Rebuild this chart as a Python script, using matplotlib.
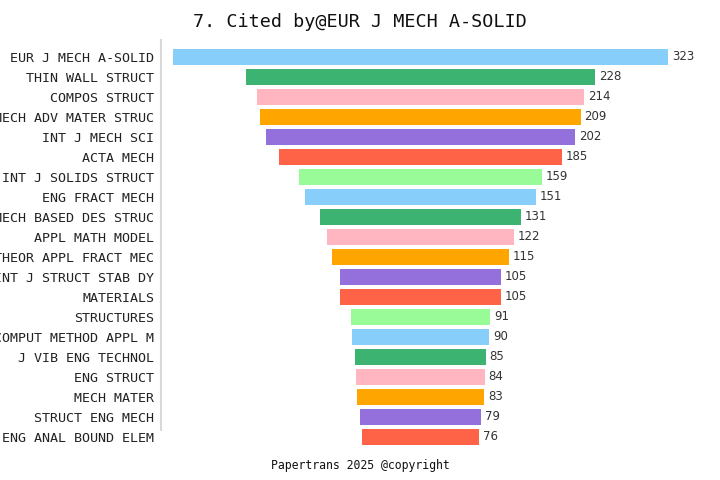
import matplotlib
matplotlib.use("Agg")
import matplotlib.pyplot as plt

journals = ["EUR J MECH A-SOLID", "THIN WALL STRUCT", "COMPOS STRUCT",
            "MECH ADV MATER STRUC", "INT J MECH SCI", "ACTA MECH",
            "INT J SOLIDS STRUCT", "ENG FRACT MECH", "MECH BASED DES STRUC",
            "APPL MATH MODEL", "THEOR APPL FRACT MEC", "INT J STRUCT STAB DY",
            "MATERIALS", "STRUCTURES", "COMPUT METHOD APPL M",
            "J VIB ENG TECHNOL", "ENG STRUCT", "MECH MATER",
            "STRUCT ENG MECH", "ENG ANAL BOUND ELEM"]
counts = [323, 228, 214, 209, 202, 185, 159, 151, 131, 122,
          115, 105, 105, 91, 90, 85, 84, 83, 79, 76]
palette = ["#87CEFA", "#3CB371", "#FFB6C1", "#FFA500", "#9370DB", "#FF6347", "#98FB98"]

mono = "DejaVu Sans Mono"

fig = plt.figure(figsize=(7.2, 4.8), dpi=100)
ax = fig.add_axes([161 / 720, 1 - 454 / 480, 519 / 720, 414 / 480])

colors = [palette[i % len(palette)] for i in range(len(counts))]
ypos = list(range(len(counts)))
lefts = [-c / 2 for c in counts]
ax.barh(ypos, counts, left=lefts, height=0.8, color=colors)

for y, c in zip(ypos, counts):
    ax.text(c / 2 + 2.5, y, str(c), va="center", ha="left",
            fontsize=8.5, color="#333333")

lim = max(counts) / 2 * 519 / 495
ax.set_xlim(-lim, lim)
ax.set_ylim(len(counts) - 1 + 0.85, -0.85)

ax.set_yticks(ypos)
ax.set_yticklabels(journals, fontfamily=mono, fontsize=9.6, color="#222222")
ax.tick_params(axis="y", length=0, pad=5)
ax.set_xticks([])

for side in ["top", "right", "bottom"]:
    ax.spines[side].set_visible(False)
ax.spines["left"].set_color("#d9d9d9")
ax.spines["left"].set_linewidth(1.5)
ax.spines["left"].set_bounds(-0.85, 18.65)

fig.text(0.5, 1 - 22 / 480, "7. Cited by@EUR J MECH A-SOLID", ha="center",
         va="center", fontfamily=mono, fontsize=13.3, color="#111111")
fig.text(0.5, 1 - 465 / 480, "Papertrans 2025 @copyright", ha="center",
         va="center", fontfamily=mono, fontsize=8.3, color="#111111")

fig.savefig("out.png", dpi=100)
